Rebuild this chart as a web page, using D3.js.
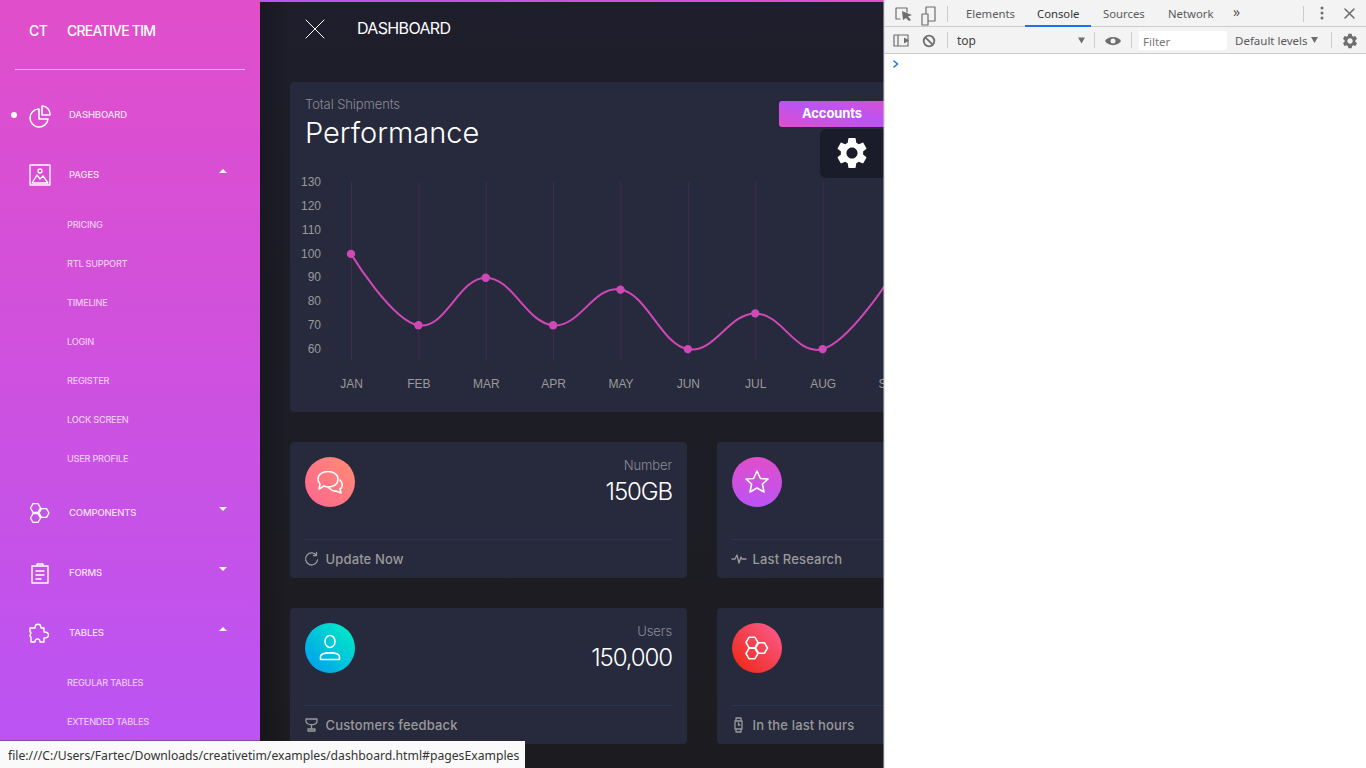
<!DOCTYPE html>
<html>
<head>
<meta charset="utf-8">
<title>Dashboard</title>
<script src="https://cdn.jsdelivr.net/npm/d3@7"></script>
<style>
  html, body { margin: 0; padding: 0; background: #1c1c24; overflow: hidden; }
  svg { display: block; }
  text { font-family: Inter, "Noto Sans", sans-serif; }
  .tick text { font-family: "Liberation Sans", Arial, sans-serif; font-size: 12px; fill: #9a9a9a; }
  .dev text { font-family: "Noto Sans", "Open Sans", sans-serif; }
</style>
</head>
<body>
<div id="chart"></div>
<script>
// chart values
const months = ["JAN", "FEB", "MAR", "APR", "MAY", "JUN", "JUL", "AUG", "SEP"];
const shipments = [100, 70, 90, 70, 85, 60, 75, 60, 90];
const yTicks = [60, 70, 80, 90, 100, 110, 120, 130];

// sidebar
const navMain = ["DASHBOARD", "PAGES", "COMPONENTS", "FORMS", "TABLES"];
const navMainY = [114, 174, 512, 572, 632];
const navSub = ["PRICING", "RTL SUPPORT", "TIMELINE", "LOGIN", "REGISTER", "LOCK SCREEN", "USER PROFILE", "REGULAR TABLES", "EXTENDED TABLES"];
const navSubY = [224, 263, 302, 341, 380, 419, 458, 682, 721];

// stat cards
const cardLabels = ["Number", "", "Users", ""];
const cardValues = ["150GB", "", "150,000", ""];
const cardFooters = ["Update Now", "Last Research", "Customers feedback", "In the last hours"];

const svg = d3.select("#chart").append("svg")
  .attr("width", 1366)
  .attr("height", 768);

const defs = svg.append("defs");

function gradient(id, x1, y1, x2, y2, stops) {
  const g = defs.append("linearGradient").attr("id", id)
    .attr("x1", x1).attr("y1", y1).attr("x2", x2).attr("y2", y2);
  stops.forEach(s => {
    const st = g.append("stop").attr("offset", s[0]).attr("stop-color", s[1]);
    if (s.length > 2) st.attr("stop-opacity", s[2]);
  });
}
gradient("sideGrad", 0, 0, 0, 1, [[0, "#e14eca"], [1, "#ba54f5"]]);
gradient("bgGrad", 0, 0, 0, 1, [[0, "#1e1e2c"], [1, "#1c1c20"]]);
gradient("shadowGrad", 0, 0, 1, 0, [[0, "#000", 0.2], [1, "#000", 0]]);
gradient("topGrad", 0, 0, 1, 0, [[0, "#ba54f5"], [1, "#e14eca"]]);
gradient("btnGrad", 1, 0, 0, 1, [[0, "#e14eca"], [0.5, "#ba54f5"], [1, "#e14eca"]]);
gradient("orange", 1, 0, 0, 1, [[0, "#ff8d72"], [1, "#ff6491"]]);
gradient("purple", 0.5, 1, 0.5, 0, [[0, "#ba54f5"], [1, "#e14eca"]]);
gradient("blue", 1, 0, 0, 1, [[0, "#00f2c3"], [1, "#0098f0"]]);
gradient("red", 1, 0, 0, 1, [[0, "#fd5d93"], [1, "#ec250d"]]);

function label(parent, x, y, str, size, color, opts) {
  opts = opts || {};
  return parent.append("text")
    .attr("x", x).attr("y", y)
    .attr("font-size", size)
    .attr("font-weight", opts.weight || 400)
    .attr("letter-spacing", opts.spacing || 0)
    .attr("text-anchor", opts.anchor || "start")
    .attr("fill", color)
    .text(str);
}

function icon(parent, x, y, d, color, scale, width) {
  return parent.append("path")
    .attr("transform", `translate(${x},${y}) scale(${scale || 1})`)
    .attr("d", d)
    .attr("fill", "none")
    .attr("stroke", color || "#fff")
    .attr("stroke-width", width || 1.6)
    .attr("stroke-linejoin", "round")
    .attr("stroke-linecap", "round");
}

// flat topped hexagon outline, used by the "components" glyphs
function hex(cx, cy, r) {
  const pts = d3.range(6).map(i => {
    const a = i * Math.PI / 3;
    return [cx + r * Math.cos(a), cy + r * Math.sin(a)];
  });
  return "M" + pts.join("L") + "Z";
}

// page background
svg.append("rect").attr("width", 884).attr("height", 768).attr("fill", "url(#bgGrad)");
svg.append("rect").attr("x", 260).attr("width", 30).attr("height", 768).attr("fill", "url(#shadowGrad)");
svg.append("rect").attr("x", 260).attr("width", 624).attr("height", 2).attr("fill", "url(#topGrad)");

// sidebar
const side = svg.append("g");
side.append("rect").attr("width", 260).attr("height", 768).attr("fill", "url(#sideGrad)");
label(side, 29, 36, "CT", 14, "#fff", {weight: 500, spacing: -0.4});
label(side, 67, 36, "CREATIVE TIM", 14, "#fff", {weight: 500, spacing: -0.75});
side.append("line").attr("x1", 15).attr("x2", 245).attr("y1", 69.5).attr("y2", 69.5)
  .attr("stroke", "#fff").attr("stroke-opacity", 0.6);
side.append("circle").attr("cx", 14).attr("cy", 115).attr("r", 3).attr("fill", "#fff");

side.selectAll(".nav-main").data(navMain).enter().append("text")
  .attr("class", "nav-main")
  .attr("x", 69)
  .attr("y", (d, i) => navMainY[i] + 3.5)
  .attr("font-size", 9.5)
  .attr("font-weight", 500)
  .attr("letter-spacing", -0.15)
  .attr("fill", "#fff")
  .attr("fill-opacity", 0.85)
  .text(d => d);

side.selectAll(".nav-sub").data(navSub).enter().append("text")
  .attr("class", "nav-sub")
  .attr("x", 67)
  .attr("y", (d, i) => navSubY[i] + 3.5)
  .attr("font-size", 9.2)
  .attr("font-weight", 500)
  .attr("letter-spacing", -0.25)
  .attr("fill", "#fff")
  .attr("fill-opacity", 0.7)
  .text(d => d);

// sidebar carets
[[171, -1], [509, 1], [569, 1], [629, -1]].forEach(c => {
  side.append("path")
    .attr("d", `M219 ${c[0] - c[1] * 2}L227 ${c[0] - c[1] * 2}L223 ${c[0] + c[1] * 2}Z`)
    .attr("fill", "#fff");
});

// sidebar icons
icon(side, 30, 105, "M9 4A9 9 0 1 0 18 14H9ZM12 1A8 8 0 0 1 20 10H12Z", "#fff", 1);
icon(side, 30, 165, "M0 0H20V20H0ZM2 18L7 10L10 14L13 11L18 18ZM8 6a2 2 0 1 0 4 0a2 2 0 1 0 -4 0", "#fff", 1, 1.3);
icon(side, 0, 0, hex(35.5, 508, 5) + hex(44, 513, 5) + hex(35.5, 518, 5), "#fff", 1, 1.4);
icon(side, 32, 563, "M0 3H16V20H0ZM5 3V1H11V3M4 8H12M4 12H12M4 16H9", "#fff", 1, 1.4);
icon(side, 29, 623, "M1 5H6C6 0 12 0 12 5H15V9C21 9 21 15 15 15V19H11C11 15 6 15 6 19H2V14C-1 13 4 9 1 9Z", "#fff", 1, 1.4);

// top bar
icon(svg, 306, 20, "M0 0L18 18M18 0L0 18", "#fff", 1, 1);
label(svg, 357, 34, "DASHBOARD", 16, "#fff", {spacing: -0.65});

// performance card
svg.append("rect").attr("x", 290).attr("y", 82).attr("width", 620).attr("height", 330)
  .attr("rx", 4).attr("fill", "#27293d");
label(svg, 305, 109, "Total Shipments", 13, "#8c8c94", {weight: 300, spacing: -0.1});
label(svg, 305, 143, "Performance", 29, "#fff", {weight: 300});

// scales and axes
const x = d3.scalePoint().domain(months).range([351, 890]);
const y = d3.scaleLinear().domain([55, 130]).range([361, 182.5]);

const xAxis = svg.append("g")
  .attr("transform", "translate(0,360)")
  .call(d3.axisBottom(x).tickSize(-178).tickPadding(19));
xAxis.select(".domain").remove();
xAxis.selectAll(".tick line").attr("stroke", "#e14eca").attr("stroke-opacity", 0.13);

const yAxis = svg.append("g")
  .attr("transform", "translate(327,0)")
  .call(d3.axisLeft(y).tickValues(yTicks).tickSize(0).tickPadding(6));
yAxis.select(".domain").remove();
yAxis.selectAll(".tick text").attr("dy", "0.26em");

const line = d3.line()
  .x((d, i) => x(months[i]))
  .y(d => y(d))
  .curve(d3.curveCardinal.tension(-0.2));

svg.append("path")
  .datum(shipments)
  .attr("d", line)
  .attr("fill", "none")
  .attr("stroke", "#d048b6")
  .attr("stroke-width", 2);

svg.selectAll(".dot").data(shipments).enter().append("circle")
  .attr("class", "dot")
  .attr("cx", (d, i) => x(months[i]))
  .attr("cy", d => y(d))
  .attr("r", 4.2)
  .attr("fill", "#d048b6");

// accounts button and gear
svg.append("rect").attr("x", 779).attr("y", 101).attr("width", 130).attr("height", 26)
  .attr("rx", 3).attr("fill", "url(#btnGrad)");
label(svg, 832, 118, "Accounts", 13, "#fff", {weight: 700, anchor: "middle", spacing: -0.1});
svg.append("rect").attr("x", 820).attr("y", 129).attr("width", 90).attr("height", 49)
  .attr("rx", 6).attr("fill", "#1b1c29");
svg.append("path")
  .attr("transform", "translate(833.4,134.4) scale(1.55)")
  .attr("fill", "#fff")
  .attr("fill-rule", "evenodd")
  .attr("d", "M19.14 12.94c.04-.3.06-.61.06-.94 0-.32-.02-.64-.07-.94l2.03-1.58c.18-.14.23-.41.12-.61l-1.92-3.32c-.12-.22-.37-.29-.59-.22l-2.39.96c-.5-.38-1.03-.7-1.62-.94l-.36-2.54c-.04-.24-.24-.41-.48-.41h-3.84c-.24 0-.43.17-.47.41l-.36 2.54c-.59.24-1.13.57-1.62.94l-2.39-.96c-.22-.08-.47 0-.59.22L2.74 8.87c-.12.21-.08.47.12.61l2.03 1.58c-.05.3-.09.63-.09.94s.02.64.07.94l-2.03 1.58c-.18.14-.23.41-.12.61l1.92 3.32c.12.22.37.29.59.22l2.39-.96c.5.38 1.03.7 1.62.94l.36 2.54c.05.24.24.41.48.41h3.84c.24 0 .44-.17.47-.41l.36-2.54c.59-.24 1.13-.56 1.62-.94l2.39.96c.22.08.47 0 .59-.22l1.92-3.32c.12-.22.07-.47-.12-.61l-2.01-1.58zM12 15.6c-1.98 0-3.6-1.62-3.6-3.6s1.62-3.6 3.6-3.6 3.6 1.62 3.6 3.6-1.62 3.6-3.6 3.6z");

// stat cards
const cardX = [290, 717, 290, 717];
const cardY = [442, 442, 608, 608];
const cardFill = ["orange", "purple", "blue", "red"];
const cardGlyph = [
  "M-12 -3C-12 -13 8 -13 8 -3C8 5 -2 6 -6 4L-11 7L-10 2C-11 1 -12 -1 -12 -3ZM10 -2C13 1 13 5 10 7L11 11L6 9C3 9.5 1 8 -1 6",
  "M0 -11L3.4 -3.5L11 -3L5.4 2.2L7 10L0 6L-7 10L-5.4 2.2L-11 -3L-3.4 -3.5Z",
  "M-5 -6.5a5 6 0 1 0 10 0a5 6 0 1 0 -10 0M-9.5 11.5V9C-9.5 3.5 9.5 3.5 9.5 9V11.5Z",
  hex(-5, -5.5, 6) + hex(4.5, 0, 6) + hex(-5, 5.5, 6)
];
const footGlyph = [
  "M11.5 3.5A6 6 0 1 0 12.5 8M11.5 0.5V3.5H8.5",
  "M0 7H3L5 3L7 11L9 5L10 7H14",
  "M1 1H12V3C12 8 1 8 1 3ZM6.5 7V11M3 13H10V11H3Z",
  "M3 3H10V11H3ZM4 3V0H9V3M4 11V14H9V11M6.5 5V7H8"
];

cardX.forEach((cx, i) => {
  const w = cx === 290 ? 397 : 250;
  const g = svg.append("g").attr("transform", `translate(${cx},${cardY[i]})`);
  g.append("rect").attr("width", w).attr("height", 136).attr("rx", 4).attr("fill", "#27293d");
  g.append("circle").attr("cx", 40).attr("cy", 40).attr("r", 25).attr("fill", `url(#${cardFill[i]})`);
  icon(g, 40, 40, cardGlyph[i], "#fff", 1, 1.6);
  g.append("line").attr("x1", 15).attr("x2", cx === 290 ? 382 : 250).attr("y1", 97.5).attr("y2", 97.5)
    .attr("stroke", "#2b3553");
  icon(g, 15, 110, footGlyph[i], "#9a9a9a", 1, 1.3);
  label(g, 35.5, 121.5, cardFooters[i], 13, "#9a9a9a", {weight: 500, spacing: 0.15});
  if (cardLabels[i]) {
    label(g, 382, 28, cardLabels[i], 13, "#8c8c94", {weight: 300, anchor: "end", spacing: -0.1});
    label(g, 382, 58, cardValues[i], 24, "#fff", {weight: 300, anchor: "end", spacing: -1.1});
  }
});

// status bar
svg.append("rect").attr("y", 741).attr("width", 525).attr("height", 27).attr("fill", "#fafafa");
svg.append("line").attr("x1", 0).attr("x2", 260).attr("y1", 740.5).attr("y2", 740.5).attr("stroke", "#8a45b0");
const status = label(svg, 8, 760, "file:///C:/Users/Fartec/Downloads/creativetim/examples/dashboard.html#pagesExamples", 12.2, "#333");
status.style("font-family", "'Noto Sans', sans-serif");

// devtools panel
const dev = svg.append("g").attr("class", "dev");
dev.append("rect").attr("x", 884).attr("width", 482).attr("height", 768).attr("fill", "#fff");
dev.append("rect").attr("x", 884).attr("width", 482).attr("height", 53).attr("fill", "#f3f3f3");
dev.append("line").attr("x1", 884).attr("x2", 884).attr("y1", 0).attr("y2", 768).attr("stroke", "#ccc");
dev.append("line").attr("x1", 884).attr("x2", 1366).attr("y1", 26.5).attr("y2", 26.5).attr("stroke", "#ccc");
dev.append("line").attr("x1", 884).attr("x2", 1366).attr("y1", 53.5).attr("y2", 53.5).attr("stroke", "#ccc");
dev.append("rect").attr("x", 1025).attr("y", 25).attr("width", 66).attr("height", 2).attr("fill", "#1a73e8");

const tabs = ["Elements", "Console", "Sources", "Network"];
const tabX = [966, 1037, 1103, 1168];
tabs.forEach((t, i) => label(dev, tabX[i], 18, t, 11.3, i === 1 ? "#333" : "#5a5a5a"));
label(dev, 1233, 17, "»", 14, "#5a5a5a");
label(dev, 957, 45, "top", 12, "#444");
dev.append("rect").attr("x", 1139).attr("y", 31).attr("width", 88).attr("height", 19).attr("fill", "#fff");
label(dev, 1143, 46, "Filter", 11.5, "#777");
label(dev, 1235, 45, "Default levels", 11.5, "#5a5a5a");

[[947.5, 6, 22], [1303.5, 6, 22], [947.5, 32, 48], [1094.5, 32, 48], [1131.5, 32, 48], [1331.5, 32, 48]].forEach(s => {
  dev.append("line").attr("x1", s[0]).attr("x2", s[0]).attr("y1", s[1]).attr("y2", s[2]).attr("stroke", "#ccc");
});

const gray = "#6e6e6e";
icon(dev, 895, 7, "M5 12H1V1H12V5", gray, 1, 1.2);
dev.append("path").attr("d", "M902 11L912 15L908 16.5L911 20L909 21L906 18L903 20Z").attr("fill", gray);
icon(dev, 922, 6, "M0 8H6V19H0ZM4 8V1H13V15H6", gray, 1, 1.2);
icon(dev, 894, 35, "M0 0H14V11H0ZM4 0V11", gray, 1, 1.2);
dev.append("path").attr("d", "M904 37.5L909 40.5L904 43.5Z").attr("fill", gray);
dev.append("circle").attr("cx", 929).attr("cy", 41).attr("r", 5.3).attr("fill", "none").attr("stroke", gray).attr("stroke-width", 1.8);
dev.append("line").attr("x1", 925.3).attr("y1", 37.3).attr("x2", 932.7).attr("y2", 44.7).attr("stroke", gray).attr("stroke-width", 1.8);
dev.append("path").attr("d", "M1078 37.5H1085L1081.5 43.5Z").attr("fill", gray);
dev.append("path").attr("d", "M1311 37H1318L1314.5 43Z").attr("fill", gray);
dev.append("path").attr("d", "M1105 41C1108 35.5 1118 35.5 1121 41C1118 46.5 1108 46.5 1105 41Z").attr("fill", gray);
dev.append("circle").attr("cx", 1113).attr("cy", 41).attr("r", 2.5).attr("fill", "#f3f3f3");
[8, 13, 18].forEach(cy => dev.append("circle").attr("cx", 1322).attr("cy", cy).attr("r", 1.5).attr("fill", gray));
icon(dev, 1345, 9, "M0 0L9 9M9 0L0 9", gray, 1, 1.6);
dev.append("path")
  .attr("transform", "translate(1341,32) scale(0.75)")
  .attr("fill", gray)
  .attr("fill-rule", "evenodd")
  .attr("d", "M19.14 12.94c.04-.3.06-.61.06-.94 0-.32-.02-.64-.07-.94l2.03-1.58c.18-.14.23-.41.12-.61l-1.92-3.32c-.12-.22-.37-.29-.59-.22l-2.39.96c-.5-.38-1.03-.7-1.62-.94l-.36-2.54c-.04-.24-.24-.41-.48-.41h-3.84c-.24 0-.43.17-.47.41l-.36 2.54c-.59.24-1.13.57-1.62.94l-2.39-.96c-.22-.08-.47 0-.59.22L2.74 8.87c-.12.21-.08.47.12.61l2.03 1.58c-.05.3-.09.63-.09.94s.02.64.07.94l-2.03 1.58c-.18.14-.23.41-.12.61l1.92 3.32c.12.22.37.29.59.22l2.39-.96c.5.38 1.03.7 1.62.94l.36 2.54c.05.24.24.41.48.41h3.84c.24 0 .44-.17.47-.41l.36-2.54c.59-.24 1.13-.56 1.62-.94l2.39.96c.22.08.47 0 .59-.22l1.92-3.32c.12-.22.07-.47-.12-.61l-2.01-1.58zM12 15.6c-1.98 0-3.6-1.62-3.6-3.6s1.62-3.6 3.6-3.6 3.6 1.62 3.6 3.6-1.62 3.6-3.6 3.6z");
icon(dev, 894, 61, "M0 0L3.5 3L0 6", "#1a73e8", 1, 1.6);
</script>
</body>
</html>
